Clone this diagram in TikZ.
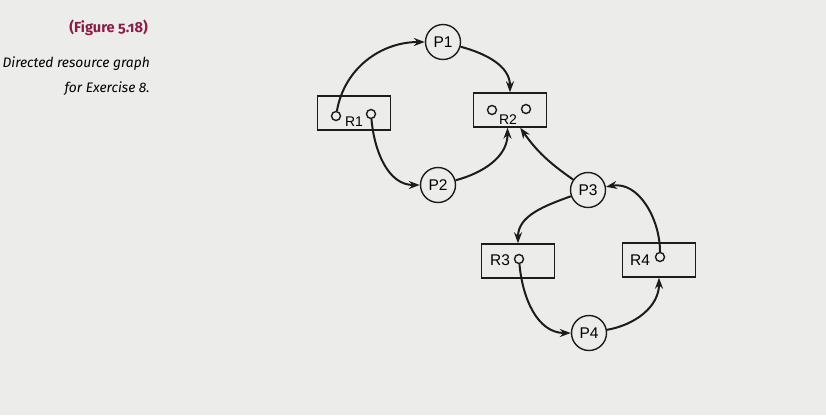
\documentclass[tikz,border=0pt]{standalone}
\usepackage{fontspec}
\setmainfont{Liberation Sans}
\newfontfamily\capfont[Numbers=OldStyle]{Fira Sans}
\usetikzlibrary{arrows.meta}
\definecolor{figred}{RGB}{140,28,72}
\definecolor{paper}{RGB}{236,236,234}
\definecolor{ink}{RGB}{28,28,28}

\begin{document}
\begin{tikzpicture}[x=1pt, y=-1pt,
  proc/.style={draw=ink, circle, line width=1.4pt, minimum size=35pt, inner sep=0pt, font=\fontsize{15.5}{15.5}\selectfont},
  res/.style={draw=ink, rectangle, line width=1.4pt, minimum width=73pt, minimum height=34pt},
  dot/.style={draw=ink, circle, line width=1.4pt, minimum size=9pt, inner sep=0pt},
  rname/.style={inner sep=0pt, font=\fontsize{14}{14}\selectfont},
  req/.style={draw=ink, line width=2pt, -{Stealth[length=11pt, width=8pt]}},
  caption/.style={anchor=base east, inner sep=0pt, font=\capfont\itshape\fontsize{13.8}{13.8}\selectfont}
]

\useasboundingbox[fill=paper] (0,0) rectangle (826,415);

% caption
\node[caption, text=figred, font=\capfont\bfseries\fontsize{14.6}{14.6}\selectfont] (fig) at (148,32) {(Figure 5.18)};
\node[caption] (cap1) at (150,67) {Directed resource graph};
\node[caption] (cap2) at (150,92) {for Exercise 8.};

% processes
\node[proc] (P1) at (443,42) {P1};
\node[proc] (P2) at (438,185) {P2};
\node[proc] (P3) at (588,190) {P3};
\node[proc] (P4) at (589,333) {P4};

% resources
\node[res] (R1) at (354,113) {};
\node[res] (R2) at (510,110) {};
\node[res] (R3) at (518,261) {};
\node[res] (R4) at (659,260) {};

\node[rname] (R1t) at (354,122) {R1};
\node[rname] (R2t) at (508,120) {R2};
\node[rname, font=\fontsize{15.5}{15.5}\selectfont] (R3t) at (500,260) {R3};
\node[rname, font=\fontsize{15.5}{15.5}\selectfont] (R4t) at (640,260) {R4};

% resource instances
\node[dot] (R1a) at (336,116) {};
\node[dot] (R1b) at (371,114) {};
\node[dot] (R2a) at (492,110) {};
\node[dot] (R2b) at (526,109) {};
\node[dot] (R3a) at (519,259) {};
\node[dot] (R4a) at (660,257) {};

% edges
\draw[req] (R1a) to[out=80, in=180] (P1);
\draw[req] (P1) to[out=-15, in=90] (R2.north);
\draw[req] (R1b) to[out=-85, in=180] (P2);
\draw[req] (P2) to[out=15, in=-90] (R2.-98);
\draw[req] (P3) to[out=145, in=-55] (R2.-60);
\draw[req] (P3) to[out=200, in=90] (R3.north);
\draw[req] (R3a) to[out=-85, in=180] (P4);
\draw[req] (P4) to[out=10, in=-90] (R4.south);
\draw[req] (R4a) to[out=90, in=10] (P3);

\end{tikzpicture}
\end{document}
